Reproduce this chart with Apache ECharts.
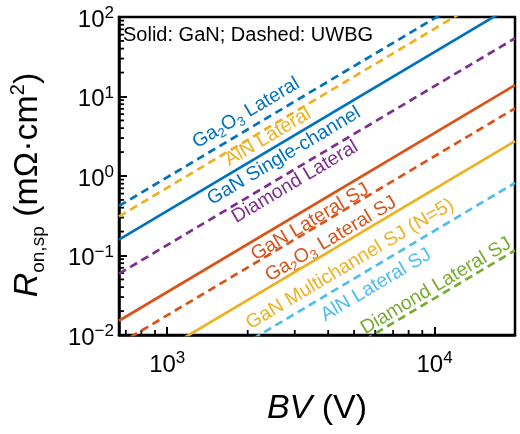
<!DOCTYPE html>
<html>
<head>
<meta charset="utf-8">
<script src="https://cdn.jsdelivr.net/npm/echarts@6/dist/echarts.min.js"></script>
<style>
  html, body { margin: 0; padding: 0; background: #fff; }
  #chart { width: 520px; height: 434px; }
</style>
</head>
<body>
<div id="chart"></div>
<script>
// BV (V) at the two ends of every line; R_on,sp (mΩ·cm²) read at those BVs
const bvEnds = [660, 20000]
const ga2o3Lateral = [0.42, 386]
const alnLateral = [0.31, 285]
const ganSingle = [0.158, 145]
const diamondLateral = [0.059, 54]
const ganLateralSJ = [0.0151, 13.9]
const ga2o3LateralSJ = [0.0077, 7.1]
const ganMultiSJ = [0.0030, 2.75]
const alnLateralSJ = [0.00089, 0.82]
const diamondLateralSJ = [0.000126, 0.116]

// minor tick values
const xMinor = [700, 800, 900, 2000, 3000, 4000, 5000, 6000, 7000, 8000, 9000, 20000]
const yMinor = []
;[0.01, 0.1, 1, 10].forEach(d => { for (let m = 2; m <= 9; m++) yMinor.push(m * d) })

const blue = '#0072BD', red = '#D95319', yellow = '#EDB120'
const purple = '#7E2F8E', green = '#77AC30', cyan = '#4DBEEE'
const font = 'Liberation Sans'

const lines = [
  { name: 'Ga2O3 Lateral', values: ga2o3Lateral, color: blue, dashed: true,
    label: 'Ga{s|2}O{s|3} Lateral' },
  { name: 'AlN Lateral', values: alnLateral, color: yellow, dashed: true, label: 'AlN Lateral' },
  { name: 'GaN Single-channel', values: ganSingle, color: blue, dashed: false, label: 'GaN Single-channel' },
  { name: 'Diamond Lateral', values: diamondLateral, color: purple, dashed: true, label: 'Diamond Lateral' },
  { name: 'GaN Lateral SJ', values: ganLateralSJ, color: red, dashed: false, label: 'GaN Lateral SJ' },
  { name: 'Ga2O3 Lateral SJ', values: ga2o3LateralSJ, color: red, dashed: true,
    label: 'Ga{s|2}O{s|3} Lateral SJ' },
  { name: 'GaN Multichannel SJ (N=5)', values: ganMultiSJ, color: yellow, dashed: false,
    label: 'GaN Multichannel SJ (N=5)' },
  { name: 'AlN Lateral SJ', values: alnLateralSJ, color: cyan, dashed: true, label: 'AlN Lateral SJ' },
  { name: 'Diamond Lateral SJ', values: diamondLateralSJ, color: green, dashed: true, label: 'Diamond Lateral SJ' }
]
// label centres (px)
const labelPos = [[246, 113], [268, 137], [284, 156], [295, 182], [310, 222],
  [331, 239], [350, 264], [376, 285], [436, 286]]

function powLabel(v) {
  const e = Math.round(Math.log10(v))
  if (Math.abs(v - Math.pow(10, e)) / v > 1e-6) return ''
  return '{b|10}{sup|' + (e < 0 ? '\u2212' + (-e) : e) + '}'
}
const tickRich = {
  b: { fontSize: 24, lineHeight: 30, fontFamily: font, color: '#000' },
  sup: { fontSize: 17, lineHeight: 17, verticalAlign: 'top', fontFamily: font, color: '#000' }
}

const chart = echarts.init(document.getElementById('chart'))
chart.setOption({
  animation: false,
  grid: { left: 114, right: 5, top: 17, bottom: 95, show: true,
    borderColor: '#000', borderWidth: 2.5, backgroundColor: 'transparent' },
  xAxis: {
    type: 'log', logBase: 10, min: 660, max: 20000,
    name: '{i|BV} (V)', nameLocation: 'middle', nameGap: 54,
    nameTextStyle: { fontSize: 34, lineHeight: 40, fontFamily: font, color: '#000',
      rich: { i: { fontSize: 34, lineHeight: 40, fontStyle: 'italic', fontFamily: font, color: '#000' } } },
    axisLine: { show: true, lineStyle: { color: '#000', width: 2.5 } },
    axisTick: { show: true, inside: true, length: 8, lineStyle: { color: '#000', width: 2 } },
    axisLabel: { formatter: powLabel, margin: 15, rich: tickRich },
    splitLine: { show: false }
  },
  yAxis: {
    type: 'log', logBase: 10, min: 0.01, max: 100,
    name: '{i|R}{sub|on,sp} (m\u03A9\u00B7cm{sup|2})', nameLocation: 'middle', nameGap: 71,
    nameTextStyle: { fontSize: 34, lineHeight: 40, fontFamily: font, color: '#000',
      padding: [0, 18, 0, 0],
      rich: {
        i: { fontSize: 34, lineHeight: 40, fontStyle: 'italic', fontFamily: font, color: '#000' },
        sub: { fontSize: 19, lineHeight: 19, verticalAlign: 'bottom', fontFamily: font, color: '#000' },
        sup: { fontSize: 20, lineHeight: 20, verticalAlign: 'top', fontFamily: font, color: '#000' }
      } },
    axisLine: { show: true, lineStyle: { color: '#000', width: 2.5 } },
    axisTick: { show: true, inside: true, length: 8, lineStyle: { color: '#000', width: 2 } },
    axisLabel: { formatter: powLabel, margin: 5, padding: [6, 0, 0, 0], rich: tickRich },
    splitLine: { show: false }
  },
  series: lines.map(l => ({
    name: l.name, type: 'line', symbol: 'none', silent: true, clip: true,
    data: bvEnds.map((bv, i) => [bv, l.values[i]]),
    lineStyle: { color: l.color, width: 2.7, type: l.dashed ? [8, 5] : 'solid' }
  }))
})

// minor ticks and annotations, placed through the chart's own scales
const graphics = []
const yBottom = chart.convertToPixel({ yAxisIndex: 0 }, 0.01)
const xLeft = chart.convertToPixel({ xAxisIndex: 0 }, 660)
xMinor.forEach(v => {
  const x = chart.convertToPixel({ xAxisIndex: 0 }, v)
  graphics.push({ type: 'line', silent: true,
    shape: { x1: x, y1: yBottom, x2: x, y2: yBottom - 5 },
    style: { stroke: '#000', lineWidth: 1.8 } })
})
yMinor.forEach(v => {
  const y = chart.convertToPixel({ yAxisIndex: 0 }, v)
  graphics.push({ type: 'line', silent: true,
    shape: { x1: xLeft, y1: y, x2: xLeft + 5, y2: y },
    style: { stroke: '#000', lineWidth: 1.8 } })
})

// text angle follows the lines on screen
const p0 = chart.convertToPixel({ seriesIndex: 0 }, [bvEnds[0], ga2o3Lateral[0]])
const p1 = chart.convertToPixel({ seriesIndex: 0 }, [bvEnds[1], ga2o3Lateral[1]])
const angle = Math.atan2(p0[1] - p1[1], p1[0] - p0[0])

lines.forEach((l, i) => {
  graphics.push({
    type: 'text', silent: true, x: labelPos[i][0], y: labelPos[i][1], rotation: angle,
    style: {
      text: l.label, fill: l.color, fontSize: 19.5, fontFamily: font, lineHeight: 24,
      align: 'center', verticalAlign: 'middle',
      rich: { s: { fontSize: 13, lineHeight: 11, verticalAlign: 'bottom', fontFamily: font, fill: l.color } }
    }
  })
})
graphics.push({
  type: 'text', silent: true, x: 123, y: 35,
  style: { text: 'Solid: GaN; Dashed: UWBG', fill: '#000', fontSize: 20, fontFamily: font,
    align: 'left', verticalAlign: 'middle' }
})
chart.setOption({ graphic: graphics })
</script>
</body>
</html>
